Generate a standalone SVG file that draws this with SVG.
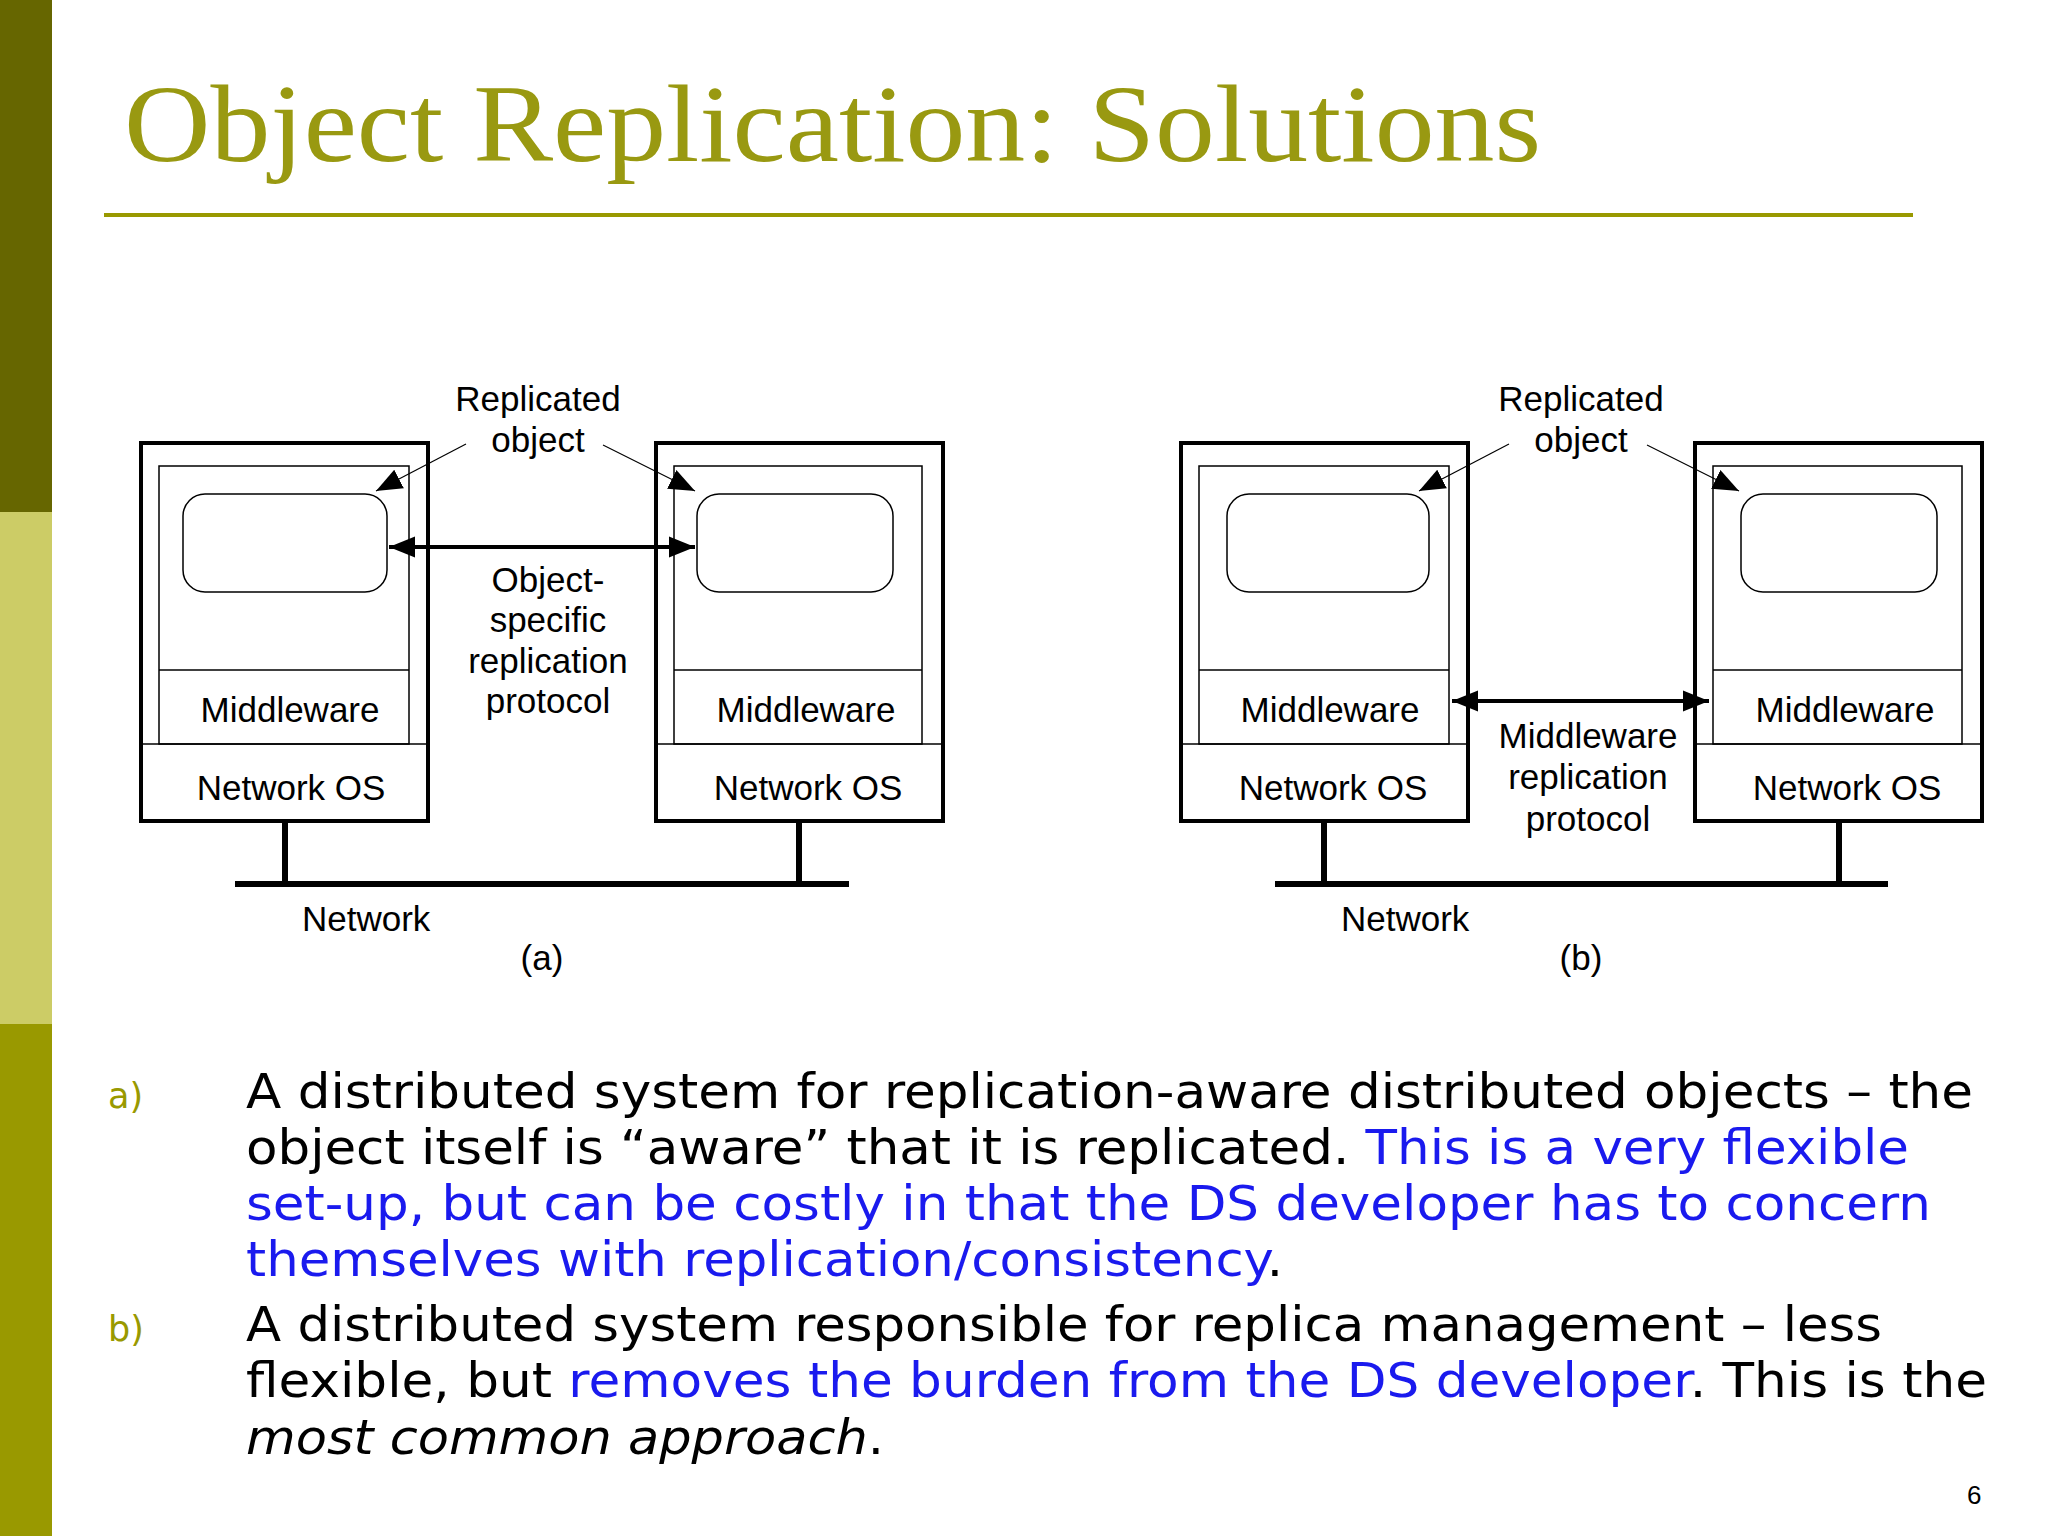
<svg xmlns="http://www.w3.org/2000/svg" width="2048" height="1536" viewBox="0 0 2048 1536">
<defs>
<marker id="ah" viewBox="0 0 10 10" refX="10" refY="5" markerWidth="10" markerHeight="10" markerUnits="userSpaceOnUse" orient="auto-start-reverse"><path d="M0,0 L10,5 L0,10 z" fill="#000"/></marker>
<marker id="bh" viewBox="0 0 10 10" refX="10" refY="5" markerWidth="26" markerHeight="26" markerUnits="userSpaceOnUse" orient="auto-start-reverse"><path d="M0,1 L10,5 L0,9 z" fill="#000"/></marker>
</defs>
<style>
.lbl{font-family:"Liberation Sans",Arial,sans-serif;font-size:35px;fill:#000}
.box{fill:#fff;stroke:#000;stroke-width:4}
.thin{fill:none;stroke:#000;stroke-width:1.5}
.net{stroke:#000;stroke-width:6}
.body{font-family:"DejaVu Sans",Verdana,sans-serif;font-size:48px;fill:#000}
.blue{fill:#1a1aee}
</style>
<rect width="2048" height="1536" fill="#fff"/>
<rect x="0" y="0" width="52" height="512" fill="#666600"/>
<rect x="0" y="512" width="52" height="512" fill="#cccc66"/>
<rect x="0" y="1024" width="52" height="512" fill="#999900"/>
<text x="124" y="161" font-family="Liberation Serif,serif" font-size="110" fill="#999911" textLength="1417" lengthAdjust="spacingAndGlyphs">Object Replication: Solutions</text>
<line x1="104" y1="215" x2="1913" y2="215" stroke="#999900" stroke-width="4"/>

<g id="a-left">
<rect class="box" x="141" y="443" width="287" height="378"/>
<rect class="thin" x="159" y="466" width="250" height="278"/>
<line class="thin" x1="159" y1="670" x2="409" y2="670"/>
<line class="thin" x1="141" y1="744" x2="428" y2="744"/>
<rect class="thin" x="183" y="494" width="204" height="98" rx="22"/>
<text class="lbl" x="290" y="722" text-anchor="middle">Middleware</text>
<text class="lbl" x="291" y="800" text-anchor="middle">Network OS</text>
</g>
<g id="a-right">
<rect class="box" x="656" y="443" width="287" height="378"/>
<rect class="thin" x="674" y="466" width="248" height="278"/>
<line class="thin" x1="674" y1="670" x2="922" y2="670"/>
<line class="thin" x1="656" y1="744" x2="943" y2="744"/>
<rect class="thin" x="697" y="494" width="196" height="98" rx="22"/>
<text class="lbl" x="806" y="722" text-anchor="middle">Middleware</text>
<text class="lbl" x="808" y="800" text-anchor="middle">Network OS</text>
</g>
<g id="a-labels">
<text class="lbl" x="538" y="411" text-anchor="middle">Replicated</text>
<text class="lbl" x="538" y="452" text-anchor="middle">object</text>
<text class="lbl" x="548" y="592" text-anchor="middle">Object-</text>
<text class="lbl" x="548" y="632" text-anchor="middle">specific</text>
<text class="lbl" x="548" y="673" text-anchor="middle">replication</text>
<text class="lbl" x="548" y="713" text-anchor="middle">protocol</text>
<text class="lbl" x="302" y="931">Network</text>
<text class="lbl" x="542" y="970" text-anchor="middle">(a)</text>
</g>

<g id="b-left">
<rect class="box" x="1181" y="443" width="287" height="378"/>
<rect class="thin" x="1199" y="466" width="250" height="278"/>
<line class="thin" x1="1199" y1="670" x2="1449" y2="670"/>
<line class="thin" x1="1181" y1="744" x2="1468" y2="744"/>
<rect class="thin" x="1227" y="494" width="202" height="98" rx="22"/>
<text class="lbl" x="1330" y="722" text-anchor="middle">Middleware</text>
<text class="lbl" x="1333" y="800" text-anchor="middle">Network OS</text>
</g>
<g id="b-right">
<rect class="box" x="1695" y="443" width="287" height="378"/>
<rect class="thin" x="1713" y="466" width="249" height="278"/>
<line class="thin" x1="1713" y1="670" x2="1962" y2="670"/>
<line class="thin" x1="1695" y1="744" x2="1982" y2="744"/>
<rect class="thin" x="1741" y="494" width="196" height="98" rx="22"/>
<text class="lbl" x="1845" y="722" text-anchor="middle">Middleware</text>
<text class="lbl" x="1847" y="800" text-anchor="middle">Network OS</text>
</g>
<g id="b-labels">
<text class="lbl" x="1581" y="411" text-anchor="middle">Replicated</text>
<text class="lbl" x="1581" y="452" text-anchor="middle">object</text>
<text class="lbl" x="1588" y="748" text-anchor="middle">Middleware</text>
<text class="lbl" x="1588" y="789" text-anchor="middle">replication</text>
<text class="lbl" x="1588" y="831" text-anchor="middle">protocol</text>
<text class="lbl" x="1341" y="931">Network</text>
<text class="lbl" x="1581" y="970" text-anchor="middle">(b)</text>
</g>

<g id="connectors">
<line class="net" x1="235" y1="884" x2="849" y2="884"/>
<line class="net" x1="285" y1="821" x2="285" y2="884"/>
<line class="net" x1="799" y1="821" x2="799" y2="884"/>
<line class="net" x1="1275" y1="884" x2="1888" y2="884"/>
<line class="net" x1="1324" y1="821" x2="1324" y2="884"/>
<line class="net" x1="1839" y1="821" x2="1839" y2="884"/>
<line x1="389" y1="547" x2="695" y2="547" stroke="#000" stroke-width="4" marker-start="url(#bh)" marker-end="url(#bh)"/>
<line x1="1452" y1="701" x2="1709" y2="701" stroke="#000" stroke-width="4" marker-start="url(#bh)" marker-end="url(#bh)"/>
<line x1="466" y1="444" x2="376" y2="491" stroke="#000" stroke-width="1.2" marker-end="url(#bh)"/>
<line x1="603" y1="445" x2="695" y2="491" stroke="#000" stroke-width="1.2" marker-end="url(#bh)"/>
<line x1="1509" y1="444" x2="1419" y2="491" stroke="#000" stroke-width="1.2" marker-end="url(#bh)"/>
<line x1="1647" y1="445" x2="1739" y2="491" stroke="#000" stroke-width="1.2" marker-end="url(#bh)"/>
</g>

<g id="body">
<text x="108" y="1108" font-family="DejaVu Sans,Verdana,sans-serif" font-size="35" fill="#999900">a)</text>
<text x="108" y="1341" font-family="DejaVu Sans,Verdana,sans-serif" font-size="35" fill="#999900">b)</text>
<text class="body" x="246" y="1108" textLength="1727" lengthAdjust="spacingAndGlyphs">A distributed system for replication-aware distributed objects – the</text>
<text class="body" x="246" y="1164" textLength="1663" lengthAdjust="spacingAndGlyphs">object itself is “aware” that it is replicated. <tspan class="blue">This is a very flexible</tspan></text>
<text class="body blue" x="246" y="1220" textLength="1685" lengthAdjust="spacingAndGlyphs">set-up, but can be costly in that the DS developer has to concern</text>
<text class="body" x="246" y="1276" textLength="1037" lengthAdjust="spacingAndGlyphs"><tspan class="blue">themselves with replication/consistency</tspan>.</text>
<text class="body" x="246" y="1341" textLength="1636" lengthAdjust="spacingAndGlyphs">A distributed system responsible for replica management – less</text>
<text class="body" x="246" y="1397" textLength="1741" lengthAdjust="spacingAndGlyphs">flexible, but <tspan class="blue">removes the burden from the DS developer</tspan>. This is the</text>
<text class="body" x="246" y="1454" textLength="638" lengthAdjust="spacingAndGlyphs"><tspan font-style="italic">most common approach</tspan>.</text>
<text x="1967" y="1504" font-family="Liberation Sans,Arial,sans-serif" font-size="26" fill="#000">6</text>
</g>
</svg>
